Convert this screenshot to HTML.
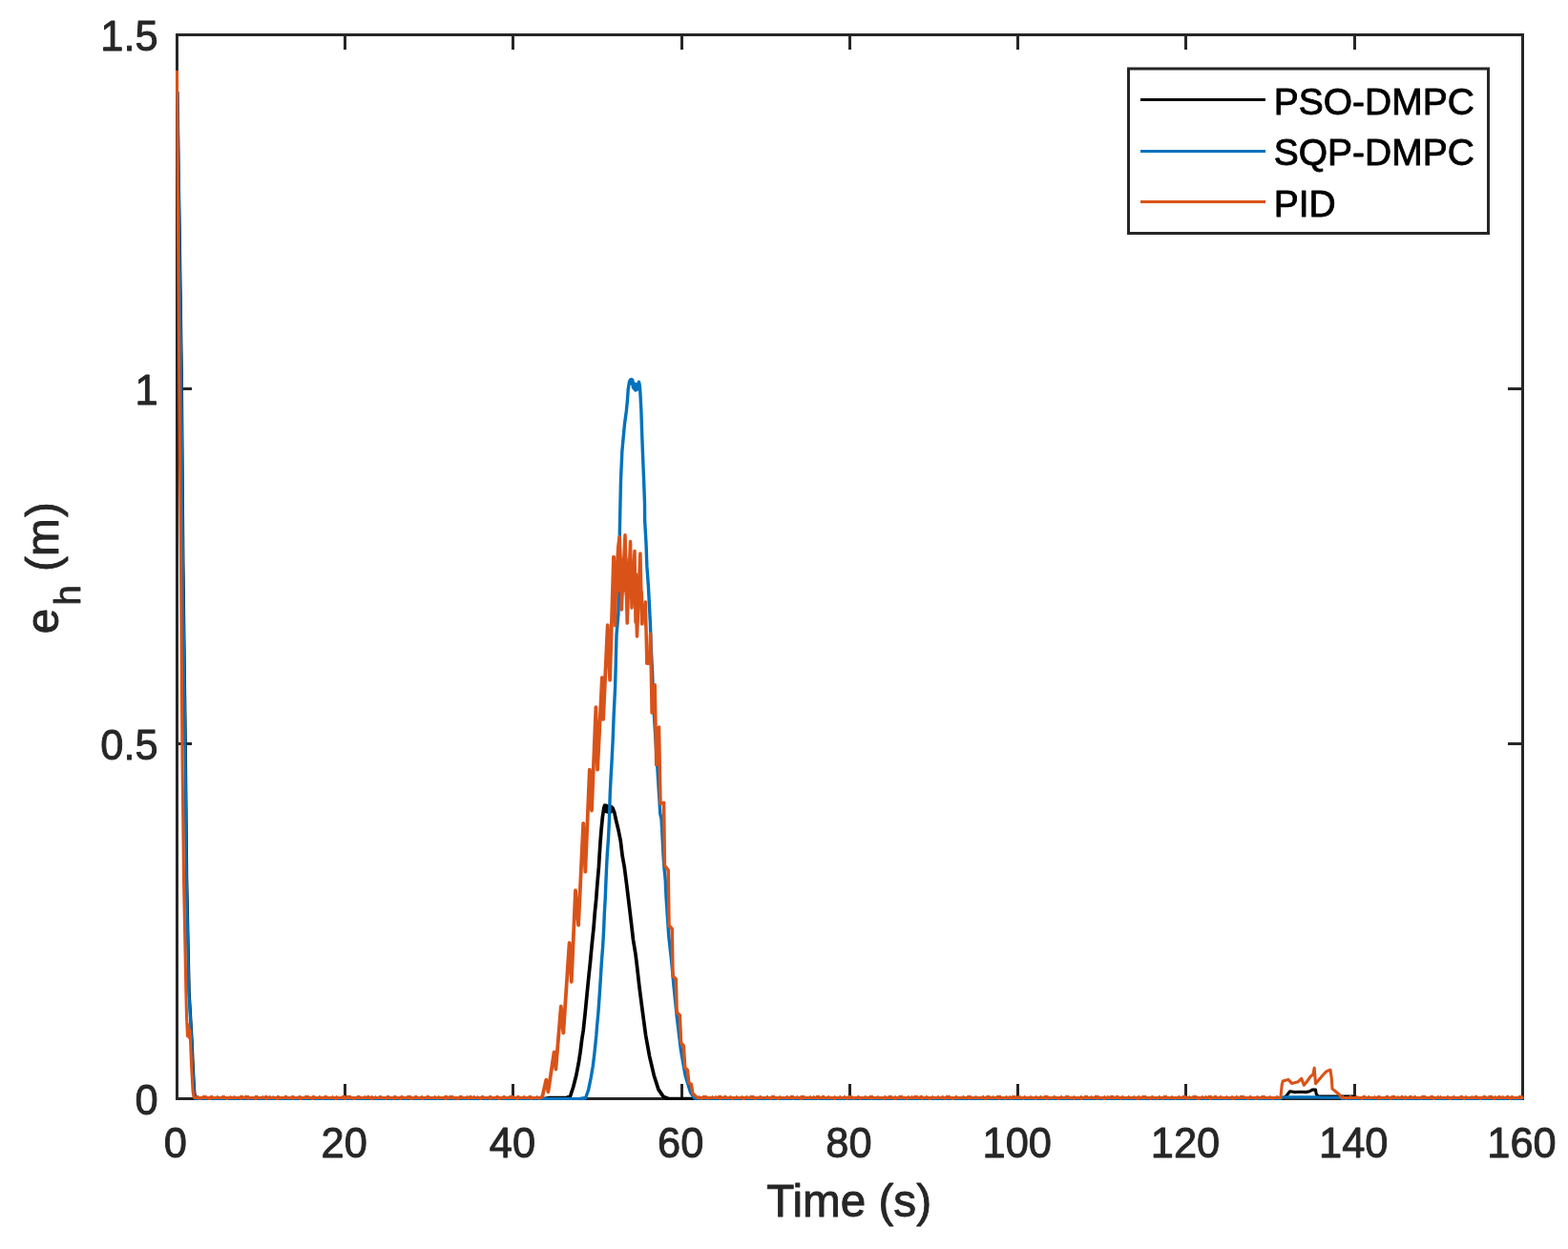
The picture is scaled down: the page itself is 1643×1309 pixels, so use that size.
<!DOCTYPE html>
<html lang="en">
<head>
<meta charset="utf-8">
<title>Height tracking error comparison</title>
<style>
html,body{margin:0;padding:0;background:#fff;}
body{width:1643px;height:1309px;overflow:hidden;}
svg{display:block;}
</style>
</head>
<body>
<svg width="1643" height="1309" viewBox="0 0 1643 1309">
<rect x="0" y="0" width="1643" height="1309" fill="#fff"/>
<g stroke="#262626" stroke-width="3" fill="none" stroke-linecap="butt">
<path d="M361.5 1151.5 V1136.0 M361.5 36.5 V52.0 M537.5 1151.5 V1136.0 M537.5 36.5 V52.0 M714.5 1151.5 V1136.0 M714.5 36.5 V52.0 M890.5 1151.5 V1136.0 M890.5 36.5 V52.0 M1066.5 1151.5 V1136.0 M1066.5 36.5 V52.0 M1242.5 1151.5 V1136.0 M1242.5 36.5 V52.0 M1419.5 1151.5 V1136.0 M1419.5 36.5 V52.0 M185.5 779.5 H201.0 M1595.5 779.5 H1580.0 M185.5 407.5 H201.0 M1595.5 407.5 H1580.0"/>
<rect x="185.5" y="36.5" width="1410.0" height="1115.0"/>
</g>
<g fill="none" stroke-linejoin="round" stroke-linecap="butt">
<path stroke="#000000" stroke-width="3.1" d="M186.0 110.0 L188.0 230.0 L190.4 400.0 L191.9 590.0 L194.4 790.0 L195.7 920.0 L196.7 970.0 L198.2 1040.0 L201.2 1092.0 L202.2 1117.0 L203.2 1135.0 L203.9 1146.0 L205.0 1151.3 L570.0 1151.3 L576.0 1150.4 L594.0 1150.2 L597.4 1149.3 M695.3 1149.6 L700.0 1151.3 L1345.0 1151.3 L1348.9 1147.2 L1351.6 1143.8 L1357.0 1144.6 L1363.0 1144.3 L1368.0 1144.6 L1372.4 1143.8 L1375.1 1142.1 L1378.5 1142.1 L1379.2 1146.5 L1381.2 1148.9 L1418.0 1149.0 L1421.0 1151.3 L1595.5 1151.3"/>
<path stroke="#000000" stroke-width="3.7" d="M594.0 1150.2 L597.4 1149.3 L600.7 1139.2 L603.8 1127.0 L606.2 1114.7 L608.1 1102.5 L609.6 1090.3 L611.2 1080.0 L613.2 1061.1 L615.0 1042.8 L616.8 1024.4 L618.4 1009.2 L620.1 991.1 L622.0 972.8 L623.2 957.5 L624.7 942.2 L625.6 930.0 L627.4 908.9 L628.9 884.4 L630.1 869.2 L631.4 856.0 L632.8 846.8 L633.6 844.2 L634.2 849.5 L634.8 844.0 L635.4 850.5 L636.0 844.6 L636.7 851.0 L637.4 845.5 L638.2 851.0 L639.0 845.8 L639.8 851.0 L640.6 845.6 L641.3 850.0 L642.0 846.8 L643.8 851.6 L645.6 860.0 L647.9 869.5 L650.3 881.4 L652.1 896.7 L654.3 908.9 L656.5 926.0 L659.2 948.3 L661.4 966.7 L663.5 985.0 L666.0 1000.3 L667.2 1010.0 L669.9 1034.0 L672.6 1055.0 L676.6 1085.0 L680.6 1107.1 L685.3 1127.2 L690.0 1141.9 L695.3 1149.6 L700.0 1151.3"/>
<path stroke="#0072BD" stroke-width="3.1" d="M186.3 96.0 L187.6 230.0 L190.0 400.0 L191.5 590.0 L194.0 790.0 L195.3 920.0 L196.3 970.0 L197.8 1040.0 L200.8 1092.0 L201.8 1117.0 L202.8 1135.0 L203.5 1146.0 L204.6 1151.5 L608.0 1151.5 L613.6 1150.8 M727.5 1150.8 L731.0 1151.5 L1342.0 1151.5 L1344.5 1149.9 L1380.0 1149.7 L1385.0 1150.3 L1404.0 1150.3 L1407.0 1151.5 L1595.5 1151.5"/>
<path stroke="#0072BD" stroke-width="3.4" d="M608.0 1151.5 L613.6 1150.8 L616.6 1142.2 L619.1 1130.0 L621.2 1117.8 L622.7 1105.6 L624.0 1093.3 L624.9 1084.2 L625.5 1076.0 L626.9 1061.1 L628.2 1042.8 L629.4 1024.4 L630.3 1009.2 L631.7 991.1 L632.7 972.8 L633.3 957.5 L634.2 942.2 L635.3 915.0 L636.2 896.7 L637.5 878.3 L638.4 860.0 L639.2 832.8 L640.1 814.4 L641.0 799.2 L642.2 775.0 L643.1 750.6 L644.0 732.2 L644.6 720.0 L645.2 697.0 L646.0 665.0 L647.9 644.0 L648.4 624.3 L648.7 604.8 L649.4 553.0 L650.5 503.2 L651.8 473.7 L653.1 459.0 L654.5 444.3 L656.3 431.0 L657.4 420.0 L658.2 408.0 L659.5 400.0 L660.6 397.8 L661.5 397.6 L662.2 402.5 L662.8 398.2 L663.4 406.0 L663.9 401.5 L664.6 407.5 L665.3 402.5 L665.9 409.0 L666.6 403.5 L667.3 408.5 L668.0 402.5 L668.7 406.0 L669.4 400.2 L670.0 402.5 L670.6 406.8 L671.9 430.9 L672.6 452.3 L673.5 476.4 L674.6 503.2 L675.5 527.3 L675.6 545.0 L677.0 569.4 L677.9 593.9 L679.4 614.6 L680.4 634.1 L681.4 653.7 L682.3 680.0 L683.6 705.0 L684.6 735.0 L686.0 760.0 L687.4 782.0 L688.8 804.0 L690.4 830.0 L691.8 853.0 L693.0 858.0 L694.2 879.4 L695.1 897.8 L696.0 910.0 L697.2 922.2 L698.0 940.0 L700.7 980.5 L703.6 1007.0 L706.0 1033.5 L709.4 1067.0 L713.4 1100.4 L718.1 1127.2 L723.4 1144.6 L727.5 1150.8 L731.0 1151.5"/>
<path stroke="#D95319" stroke-width="3.1" stroke-linecap="round" d="M185.5 75.0 L186.5 230.0 L187.8 400.0 L189.5 590.0 L191.0 790.0 L192.5 920.0 L193.5 970.0 L194.9 1040.0 L195.5 1065.0 L196.5 1086.0 L197.5 1074.0 L198.5 1088.0 L199.3 1080.0 L199.6 1092.0 L200.6 1117.0 L201.6 1135.0 L202.1 1144.0 L203.0 1149.6 L204.0 1150.5 L204.5 1150.5 L566.0 1150.5 L566.5 1150.5 L568.3 1149.3 M731.0 1150.5 L732.3 1150.5 L1341.0 1150.5 L1341.9 1150.5 L1343.2 1137.1 L1344.2 1133.0 L1349.9 1131.4 L1353.6 1135.4 L1360.3 1133.7 L1363.7 1130.3 L1366.4 1137.4 L1369.8 1133.0 L1373.1 1128.3 L1375.8 1126.3 L1377.2 1119.2 L1378.5 1135.7 L1381.9 1131.7 L1385.9 1127.0 L1389.9 1122.9 L1394.0 1121.3 L1395.3 1130.3 L1396.0 1141.1 L1399.3 1143.8 L1403.4 1147.2 L1406.1 1150.5 L1407.5 1150.5 L1595.5 1150.5 L1595.5 1150.5"/>
<path stroke="#D95319" stroke-width="3.8" stroke-linecap="round" d="M568.3 1149.3 L572.3 1131.6 L574.4 1144.3 L580.6 1102.6 L582.4 1120.5 L587.8 1054.6 L590.3 1082.6 L596.6 988.1 L598.8 1029.0 L603.0 933.1 L606.1 969.7 L611.2 862.9 L613.3 913.7 L617.8 806.6 L620.0 849.5 L624.4 741.2 L626.1 806.7 L630.9 710.1 L632.1 753.9 L636.7 655.1 L639.1 712.8 L643.0 583.8"/>
<path stroke="#D95319" stroke-width="3.5" stroke-linecap="round" d="M643.0 583.8 L644.4 655.5 L645.7 605.0 L647.8 573.0 L649.1 562.7 L651.0 605.0 L651.3 638.9 L655.0 560.8 L657.2 653.1 L660.5 567.6 L662.0 636.9 L665.0 577.6 L666.0 652.0 L666.7 641.6 L667.5 666.9 L670.9 579.9 L672.6 654.0 L676.3 631.1 L677.9 695.1"/>
<path stroke="#D95319" stroke-width="3.5" stroke-linecap="round" d="M677.9 695.1 L679.3 687.6 L680.3 695.4 L681.6 664.0 L683.1 747.1 L686.2 717.8 L687.7 801.6 L690.5 761.9 L692.0 842.3 L695.6 841.2 L696.4 907.0 L700.2 912.0 L701.0 970.0 L704.2 973.5 L705.0 1023.0 L708.3 1026.0 L709.2 1061.0 L712.3 1064.0 L713.6 1093.0 L716.3 1096.0 L717.8 1119.0 L720.4 1121.5 L721.8 1135.0 L724.4 1136.6 L725.8 1146.0 L728.5 1148.5 L731.0 1150.5 L732.3 1150.5"/>
<path stroke="#D95319" stroke-width="1.1" stroke-dasharray="2.8 3.8 4.7 3.3 3.0 3.9 1.7 3.6 3.5 5.0 1.4 2.5 1.4 5.0 3.8 1.2 4.9 5.8 3.6 4.1 1.6 1.1 3.1 1.3 1.8 2.2 1.1 3.3 2.8 5.2 3.1 4.2 3.0 4.3" d="M205.5 1148.55 H566.5"/>
<path stroke="#D95319" stroke-width="1.1" stroke-dasharray="1.9 7.3 3.0 15.9 2.7 12.5 1.6 6.8 1.6 4.8 2.5 8.8 2.7 8.6 2.9 14.2 1.0 6.5 2.8 9.6 3.0 8.8 1.1 11.6 2.6 7.2" d="M208.5 1152.45 H566.5"/>
<path stroke="#D95319" stroke-width="1.1" stroke-dasharray="1.3 2.7 4.9 4.8 1.5 2.2 1.4 1.3 4.2 1.9 3.2 3.2 1.8 4.7 1.5 4.2 1.5 3.1 1.9 2.3 4.9 5.0 2.2 5.4 1.8 3.0 4.4 4.2 1.4 5.9 1.9 2.3 4.1 2.6" d="M732 1148.55 H1341.5"/>
<path stroke="#D95319" stroke-width="1.1" stroke-dasharray="1.6 4.9 1.2 11.0 1.5 11.2 1.7 9.4 2.9 9.8 2.1 14.4 1.4 5.8 2.8 13.8 1.5 6.3 2.5 15.3 1.4 15.4 2.8 11.2 1.8 5.2" d="M735 1152.45 H1341.5"/>
<path stroke="#D95319" stroke-width="1.1" stroke-dasharray="1.2 5.8 2.0 4.5 2.0 5.1 3.4 2.5 1.7 4.6 1.3 2.1 3.2 5.3 3.5 2.4 4.7 2.0 1.1 2.3 2.8 1.3 1.7 2.8 3.3 1.7 2.4 5.5 4.9 4.3 3.8 3.9 1.6 1.2" d="M1407 1148.55 H1595.5"/>
<path stroke="#D95319" stroke-width="1.1" stroke-dasharray="1.0 14.9 2.4 15.6 1.0 11.6 2.0 12.8 1.6 16.0 1.2 10.6 2.5 14.8 2.5 12.4 2.6 15.0 1.7 12.2 2.8 14.5 1.8 13.5 2.7 10.9" d="M1410 1152.45 H1595.5"/>
<path stroke="#D95319" stroke-width="2.2" d="M642.2 638.1 L643.1 651.2 L644.0 604.9 L644.9 629.9 L645.8 596.4 L646.7 625.3 L647.6 594.2 L648.5 619.7 L649.4 587.8 L650.3 617.7 L651.2 586.9 L652.1 616.4 L653.0 585.4 L653.9 619.1 L654.8 583.3 L655.7 623.5 L656.6 584.9 L657.5 626.9 L658.4 589.3 L659.3 623.0 L660.2 591.9 L661.1 616.3 L662.0 594.6 L662.9 617.1 L663.8 597.8 L664.7 629.6 L665.6 601.1 L666.5 636.3 L667.4 601.6 L668.3 642.0 L669.2 605.5 L670.1 635.4 L671.0 604.6 L671.9 631.4 L672.8 620.4 L673.7 639.5 L674.6 637.2 L675.5 654.0 L676.4 656.0"/>
</g>
<g font-family="'Liberation Sans', sans-serif" fill="#262626" stroke="#262626" stroke-width="0.9" stroke-linejoin="round">
<text transform="translate(183.90 1212.55) scale(0.9896 1)" font-size="43.86" text-anchor="middle">0</text>
<text transform="translate(360.75 1212.55) scale(0.9896 1)" font-size="43.86" text-anchor="middle">20</text>
<text transform="translate(537.00 1212.55) scale(0.9896 1)" font-size="43.86" text-anchor="middle">40</text>
<text transform="translate(713.25 1212.55) scale(0.9896 1)" font-size="43.86" text-anchor="middle">60</text>
<text transform="translate(889.50 1212.55) scale(0.9896 1)" font-size="43.86" text-anchor="middle">80</text>
<text transform="translate(1065.75 1212.55) scale(0.9896 1)" font-size="43.86" text-anchor="middle">100</text>
<text transform="translate(1242.00 1212.55) scale(0.9896 1)" font-size="43.86" text-anchor="middle">120</text>
<text transform="translate(1418.25 1212.55) scale(0.9896 1)" font-size="43.86" text-anchor="middle">140</text>
<text transform="translate(1594.50 1212.55) scale(0.9896 1)" font-size="43.86" text-anchor="middle">160</text>
<text transform="translate(165.70 1167.55) scale(0.9896 1)" font-size="43.86" text-anchor="end">0</text>
<text transform="translate(165.70 795.88) scale(0.9896 1)" font-size="43.86" text-anchor="end">0.5</text>
<text transform="translate(165.70 424.22) scale(0.9896 1)" font-size="43.86" text-anchor="end">1</text>
<text transform="translate(165.70 52.55) scale(0.9896 1)" font-size="43.86" text-anchor="end">1.5</text>
</g>
<g font-family="'Liberation Sans', sans-serif" fill="#262626" stroke="#262626" stroke-width="0.9" stroke-linejoin="round">
<text transform="translate(889.60 1275.35) scale(0.9869 1)" font-size="48.30" text-anchor="middle">Time (s)</text>
<g transform="rotate(-90)">
<text transform="translate(-664.30 61.05) scale(0.9869 1)" font-size="48.30" text-anchor="start">e</text>
<text transform="translate(-634.60 83.55) scale(0.9937 1)" font-size="38.34" text-anchor="start">h</text>
<text transform="translate(-598.90 61.05) scale(0.9869 1)" font-size="48.30" text-anchor="start">(m</text>
<text transform="translate(-541.90 61.05) scale(0.9869 1)" font-size="48.30" text-anchor="start">)</text>
</g>
</g>
<rect x="1182.5" y="72" width="377" height="172.5" fill="#fff" stroke="#262626" stroke-width="3"/>
<g stroke-width="3.2" fill="none">
<path stroke="#000000" d="M1195 104.5 H1326"/>
<path stroke="#0072BD" d="M1195 158.5 H1326"/>
<path stroke="#D95319" d="M1195 211.5 H1326"/>
</g>
<g font-family="'Liberation Sans', sans-serif" fill="#000" stroke="#000" stroke-width="0.9" stroke-linejoin="round">
<text transform="translate(1334.70 119.65) scale(0.9929 1)" font-size="39.28" text-anchor="start">PSO-DMPC</text>
<text transform="translate(1334.70 173.15) scale(0.9929 1)" font-size="39.28" text-anchor="start">SQP-DMPC</text>
<text transform="translate(1334.70 226.55) scale(0.9929 1)" font-size="39.28" text-anchor="start">PID</text>
</g>
</svg>
</body>
</html>
